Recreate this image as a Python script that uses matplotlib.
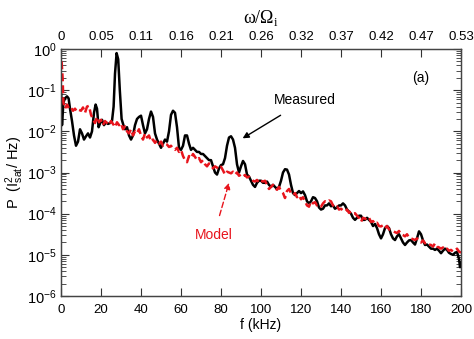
import numpy as np
import matplotlib
matplotlib.use("Agg")
import matplotlib.pyplot as plt
from matplotlib.ticker import LogLocator, NullFormatter

plt.rcParams['font.family'] = ['Liberation Sans', 'DejaVu Sans']
plt.rcParams['mathtext.fontset'] = 'custom'
plt.rcParams['mathtext.rm'] = 'Liberation Sans'
plt.rcParams['mathtext.it'] = 'Liberation Sans:italic'

# measured spectrum: frequency (kHz) and log10 of power
meas_f = [0, 0.5, 1.2, 2, 3, 3.8, 4.5, 5.5, 6.5, 7.5, 8.5, 9.5, 10.5, 11.5, 12.5,
          13.5, 14.5, 15.5, 16.5, 17.3, 18, 18.8, 19.6, 20.5, 21.5, 22.5, 23.5,
          24.5, 25.5, 26.3, 27, 27.8, 28.6, 29.4, 30.3, 31.2, 32, 33, 34, 35, 36,
          37, 38, 39, 40, 41, 42, 43, 44, 45, 46, 47, 48, 49, 50, 51, 52, 53, 54,
          55, 56, 57, 58, 59, 60, 61, 62, 63, 64, 65, 66, 67, 68, 69, 70, 71, 72,
          73, 74, 75, 76, 77, 78, 79, 80, 81, 82, 83, 84, 85, 86, 87, 88, 89, 90,
          91, 92, 93, 94, 95, 96, 97, 98, 99, 100, 101, 102, 103, 104, 105, 106,
          107, 108, 109, 110, 111, 112, 113, 114, 115, 116, 117, 118, 119, 120,
          121, 122, 123, 124, 125, 126, 127, 128, 129, 130, 131, 132, 133, 134,
          135, 136, 137, 138, 139, 140, 141, 142, 143, 144, 145, 146, 147, 148,
          149, 150, 151, 152, 153, 154, 155, 156, 157, 158, 159, 160, 161, 162,
          163, 164, 165, 166, 167, 168, 169, 170, 171, 172, 173, 174, 175, 176,
          177, 178, 179, 180, 181, 182, 183, 184, 185, 186, 187, 188, 189, 190,
          191, 192, 193, 194, 195, 196, 197, 198, 199, 199.5, 200]
meas_logp = [-0.92, -1.85, -1.3, -1.2, -1.15, -1.2, -1.45, -1.75, -2.1, -2.35,
             -2.25, -1.95, -2.05, -2.2, -2.12, -2.05, -2.15, -2.0, -1.55, -1.35,
             -1.45, -1.9, -1.8, -1.72, -1.85, -1.78, -1.82, -1.8, -1.75, -1.4,
             -0.6, -0.1, -0.25, -1.0, -1.7, -1.85, -1.95, -1.9, -2.1, -2.2, -2.1,
             -1.85, -1.7, -1.65, -1.62, -1.85, -2.05, -1.95, -1.7, -1.52, -1.65,
             -2.05, -2.2, -2.3, -2.4, -2.3, -2.2, -2.25, -2.0, -1.6, -1.5, -1.55,
             -1.9, -2.4, -2.45, -2.35, -2.1, -2.1, -2.3, -2.45, -2.4, -2.45, -2.5,
             -2.5, -2.55, -2.55, -2.6, -2.65, -2.7, -2.7, -2.85, -3.0, -3.05,
             -2.9, -2.82, -2.8, -2.65, -2.35, -2.15, -2.12, -2.2, -2.4, -2.8,
             -3.0, -2.85, -2.72, -2.8, -3.05, -3.1, -3.2, -3.3, -3.35, -3.25,
             -3.2, -3.2, -3.25, -3.25, -3.22, -3.3, -3.35, -3.3, -3.35, -3.4,
             -3.35, -3.2, -3.0, -2.92, -2.93, -3.05, -3.3, -3.5, -3.55, -3.5,
             -3.45, -3.5, -3.46, -3.55, -3.7, -3.75, -3.7, -3.6, -3.62, -3.7,
             -3.85, -3.9, -3.88, -3.8, -3.8, -3.75, -3.82, -3.8, -3.88, -3.85,
             -3.8, -3.8, -3.75, -3.8, -3.9, -3.95, -4.0, -4.1, -4.15, -4.1, -4.05,
             -4.05, -4.15, -4.15, -4.1, -4.15, -4.2, -4.3, -4.25, -4.35, -4.5,
             -4.6, -4.5, -4.35, -4.3, -4.35, -4.5, -4.6, -4.64, -4.55, -4.5, -4.6,
             -4.7, -4.76, -4.7, -4.65, -4.64, -4.7, -4.75, -4.6, -4.43, -4.5,
             -4.65, -4.76, -4.75, -4.8, -4.85, -4.85, -4.88, -4.85, -4.9, -4.96,
             -4.9, -4.85, -4.88, -4.95, -4.98, -5.0, -4.95, -4.93, -5.1, -5.3,
             -5.2]

# model spectrum
model_f = [0.3, 0.8, 1.2] + list(range(2, 201))
model_logp = [-0.3, -0.7, -1.3, -1.45, -1.35, -1.45, -1.42, -1.5, -1.45, -1.52,
              -1.48, -1.5, -1.42, -1.55, -1.4, -1.38, -1.6, -1.7, -1.8, -1.65,
              -1.78, -1.72, -1.85, -1.75, -1.8, -1.85, -1.75, -1.82, -1.9, -1.78,
              -1.85, -1.8, -1.95, -1.88, -2.0, -2.05, -1.95, -2.1, -2.0, -2.05,
              -1.95, -2.1, -2.2, -2.05, -2.15, -2.1, -2.25, -2.2, -2.28, -2.22,
              -2.3, -2.25, -2.35, -2.3, -2.32, -2.38, -2.35, -2.42, -2.45, -2.4,
              -2.5, -2.45, -2.6, -2.7, -2.75, -2.6, -2.65, -2.55, -2.62, -2.7,
              -2.65, -2.75, -2.7, -2.8, -2.85, -2.78, -2.82, -2.9, -2.85, -2.88,
              -2.92, -2.86, -2.95, -3.05, -2.98, -3.0, -3.02, -2.98, -3.05, -3.0,
              -3.08, -3.05, -3.1, -3.06, -3.12, -3.1, -3.15, -3.2, -3.22, -3.18,
              -3.25, -3.2, -3.22, -3.2, -3.3, -3.4, -3.35, -3.3, -3.38, -3.42,
              -3.35, -3.45, -3.5, -3.62, -3.45, -3.4, -3.5, -3.55, -3.5, -3.6,
              -3.55, -3.65, -3.6, -3.7, -3.8, -3.83, -3.7, -3.75, -3.72, -3.8,
              -3.78, -3.83, -3.75, -3.7, -3.72, -3.68, -3.7, -3.8, -3.85, -3.82,
              -3.9, -3.88, -3.92, -3.95, -3.9, -3.98, -3.95, -4.0, -3.99, -4.05,
              -4.1, -4.2, -4.1, -4.12, -4.15, -4.1, -4.2, -4.18, -4.25, -4.22,
              -4.3, -4.31, -4.28, -4.35, -4.3, -4.38, -4.4, -4.42, -4.45, -4.47,
              -4.42, -4.5, -4.52, -4.55, -4.5, -4.58, -4.6, -4.62, -4.64, -4.6,
              -4.68, -4.7, -4.65, -4.72, -4.7, -4.75, -4.76, -4.8, -4.72, -4.8,
              -4.82, -4.85, -4.82, -4.88, -4.85, -4.9, -4.88, -4.92, -4.9, -4.85,
              -4.92, -4.95]

bottom_ticks = [0, 20, 40, 60, 80, 100, 120, 140, 160, 180, 200]
top_labels = ["0", "0.05", "0.11", "0.16", "0.21", "0.26", "0.32", "0.37",
              "0.42", "0.47", "0.53"]

fig = plt.figure(figsize=(4.74, 3.39), dpi=100)
ax = fig.add_axes([0.1287, 0.1268, 0.8439, 0.7287])

ax.plot(meas_f, 10 ** np.array(meas_logp), color='black', lw=1.8, zorder=3)
ax.plot(model_f, 10 ** np.array(model_logp), color='#e8141c', lw=1.8,
        dashes=(3.2, 1.6), zorder=4)

ax.set_yscale('log')
ax.set_xlim(0, 200)
ax.set_ylim(1e-6, 1)
ax.set_xticks(bottom_ticks)
ax.yaxis.set_major_locator(LogLocator(base=10, numticks=10))
ax.yaxis.set_minor_locator(LogLocator(base=10, subs=np.arange(2, 10), numticks=20))
ax.yaxis.set_minor_formatter(NullFormatter())
ax.tick_params(which='both', direction='in', right=True, labelsize=9.5, color='#333333')
ax.tick_params(which='major', length=6, pad=6)
ax.tick_params(which='minor', length=3.5)
ax.tick_params(axis='y', which='major', pad=3, labelsize=10.5)
for sp in ax.spines.values():
    sp.set_color('#444444')
    sp.set_linewidth(0.9)

ax.set_xlabel("f (kHz)", fontsize=10, labelpad=1)
ax.set_ylabel(r"P  ($\mathregular{I_{sat}^{2}}$/ Hz)", fontsize=10.5, labelpad=1)

ax2 = ax.twiny()
ax2.set_xlim(0, 200)
ax2.set_xticks(bottom_ticks)
ax2.set_xticklabels(top_labels)
ax2.tick_params(direction='in', length=6, labelsize=9.5, pad=4, color='#333333')
for sp in ax2.spines.values():
    sp.set_color('#444444')
    sp.set_linewidth(0.9)
ax2.set_xlabel("ω/Ω$_\\mathregular{i}$", fontsize=13, labelpad=6,
               family=['Liberation Serif', 'DejaVu Serif'])

ax.text(180, 10 ** -0.71, "(a)", fontsize=10, ha='center', va='center')
ax.annotate("Measured", xy=(90.8, 10 ** -2.17), xytext=(122, 10 ** -1.25),
            fontsize=10, ha='center', va='center',
            arrowprops=dict(arrowstyle='-|>', color='black', lw=1.0,
                            mutation_scale=9, shrinkA=7, shrinkB=0))
ax.annotate("Model", xy=(84, 10 ** -3.25), xytext=(76.5, 10 ** -4.51),
            fontsize=10, ha='center', va='center', color='#e8141c',
            arrowprops=dict(arrowstyle='-|>', color='#e8141c', lw=1.0,
                            linestyle=(0, (4, 2)), mutation_scale=9,
                            shrinkA=7, shrinkB=0))

fig.savefig("out.png", dpi=100)
